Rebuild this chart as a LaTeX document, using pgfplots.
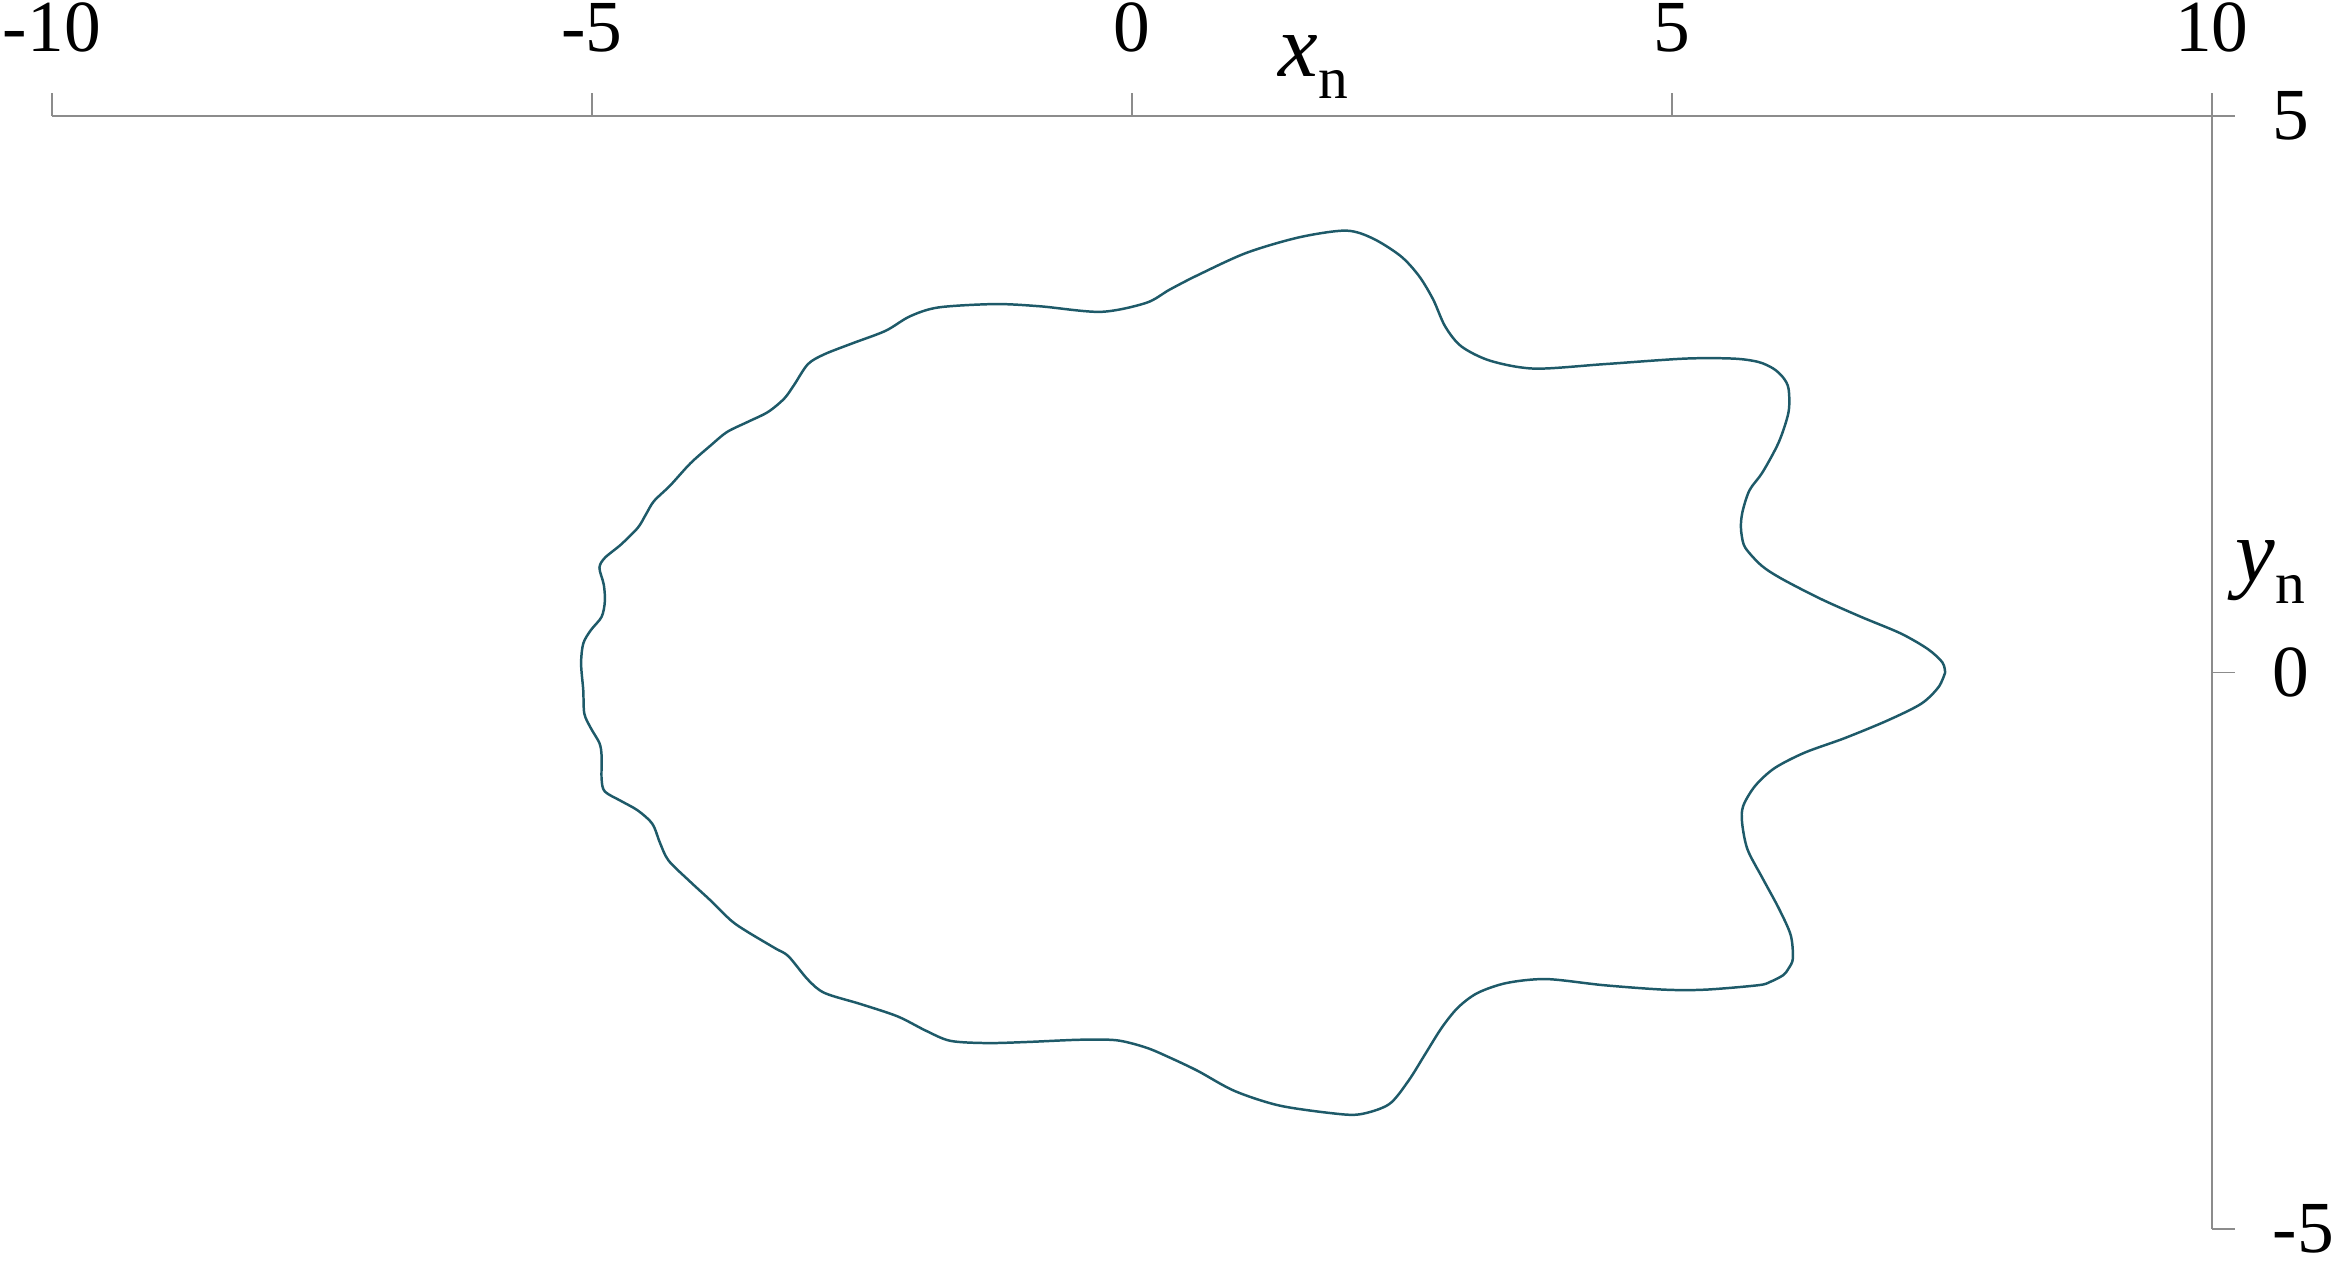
\documentclass[border=0pt]{standalone}
\usepackage{fontspec}
\setmainfont{Liberation Serif}
\usepackage{pgfplots}
\pgfplotsset{compat=1.18}
\definecolor{curve}{RGB}{30,90,105}
\definecolor{axgray}{RGB}{140,140,140}

\begin{document}
\begin{tikzpicture}
\begin{axis}[
  scale only axis,
  width=435.5pt, height=224.4pt,
  xmin=-10, xmax=10, ymin=-5, ymax=5,
  axis x line=top, axis y line=right,
  axis line style={-, draw=axgray, line width=0.35pt},
  x axis line style={shorten >=-4.6pt},
  y axis line style={shorten >=-4.6pt},
  tick style={draw=axgray, line width=0.35pt},
  tick align=outside,
  major tick length=4.6pt,
  xtick={-10,-5,0,5,10}, xticklabels={-10,-5,0,5,10},
  ytick={-5,0,5}, yticklabels={-5,0,5},
  tick label style={font=\fontsize{14.8}{17}\selectfont, inner sep=0.6pt},
  xticklabel style={anchor=south, yshift=7.4pt},
  yticklabel style={anchor=west, xshift=6.1pt, inner ysep=1.4pt, inner xsep=1.4pt},
  xlabel={{\fontsize{18}{20}\selectfont\itshape x}\raisebox{-4.4pt}{\fontsize{12}{14}\selectfont n}},
  ylabel={{\fontsize{18}{20}\selectfont\itshape y}\raisebox{-4.4pt}{\fontsize{12}{14}\selectfont n}},
  every axis x label/.style={at={(rel axis cs:0.5675,1)}, anchor=base west, inner sep=0pt, yshift=8pt},
  every axis y label/.style={at={(rel axis cs:1,0.582)}, anchor=base west, inner sep=0pt, xshift=4.6pt},
]
\addplot[curve, line width=0.5pt, smooth, tension=0.5, line join=round] coordinates {
(7.53,0.00) (7.505,0.09) (7.37,0.21) (7.12,0.35) (6.75,0.50) (6.38,0.66)
(6.02,0.84) (5.83,0.96) (5.68,1.12) (5.645,1.24) (5.64,1.35) (5.66,1.47)
(5.72,1.64) (5.84,1.80) (5.99,2.07) (6.08,2.34) (6.08,2.55) (6.03,2.65)
(5.94,2.73) (5.80,2.79) (5.57,2.82) (5.12,2.82) (4.37,2.77) (3.73,2.73)
(3.32,2.80) (3.05,2.93) (2.90,3.11) (2.79,3.35) (2.66,3.56) (2.49,3.74)
(2.23,3.90) (1.98,3.97) (1.55,3.91) (1.06,3.77) (0.61,3.57) (0.35,3.44)
(0.13,3.32) (-0.29,3.24) (-0.85,3.29) (-1.265,3.31) (-1.79,3.28)
(-2.055,3.20) (-2.28,3.07) (-2.58,2.96) (-2.845,2.86) (-3.00,2.77)
(-3.13,2.58) (-3.22,2.46) (-3.37,2.34) (-3.56,2.25) (-3.75,2.16)
(-3.90,2.04) (-4.087,1.88) (-4.275,1.68) (-4.425,1.54) (-4.50,1.42)
(-4.575,1.30) (-4.73,1.15) (-4.88,1.03) (-4.93,0.94) (-4.89,0.79)
(-4.88,0.64) (-4.91,0.50) (-5.01,0.38) (-5.08,0.26) (-5.10,0.08)
(-5.08,-0.16) (-5.07,-0.37) (-5.01,-0.50) (-4.93,-0.635) (-4.91,-0.75)
(-4.91,-0.96) (-4.88,-1.07) (-4.73,-1.155) (-4.575,-1.24) (-4.44,-1.36)
(-4.37,-1.53) (-4.29,-1.69) (-4.09,-1.88) (-3.90,-2.05) (-3.71,-2.23)
(-3.56,-2.33) (-3.30,-2.48) (-3.18,-2.55) (-3.00,-2.76) (-2.845,-2.88)
(-2.51,-2.98) (-2.17,-3.09) (-1.905,-3.22) (-1.68,-3.31) (-1.34,-3.33)
(-0.965,-3.32) (-0.48,-3.30) (-0.14,-3.305) (0.13,-3.37) (0.35,-3.46)
(0.61,-3.58) (0.95,-3.76) (1.36,-3.89) (1.85,-3.96) (2.11,-3.97)
(2.38,-3.88) (2.56,-3.67) (2.715,-3.43) (2.87,-3.19) (3.02,-3.01)
(3.20,-2.88) (3.47,-2.79) (3.84,-2.755) (4.37,-2.81) (4.93,-2.85)
(5.31,-2.85) (5.80,-2.81) (5.91,-2.78) (6.03,-2.72) (6.08,-2.66)
(6.12,-2.57) (6.10,-2.36) (5.99,-2.12) (5.84,-1.85) (5.70,-1.59)
(5.65,-1.35) (5.66,-1.20) (5.77,-1.02) (5.95,-0.86) (6.23,-0.72)
(6.60,-0.59) (7.00,-0.43) (7.31,-0.28) (7.47,-0.13) (7.53,0.00)
};
\end{axis}
\end{tikzpicture}
\end{document}
